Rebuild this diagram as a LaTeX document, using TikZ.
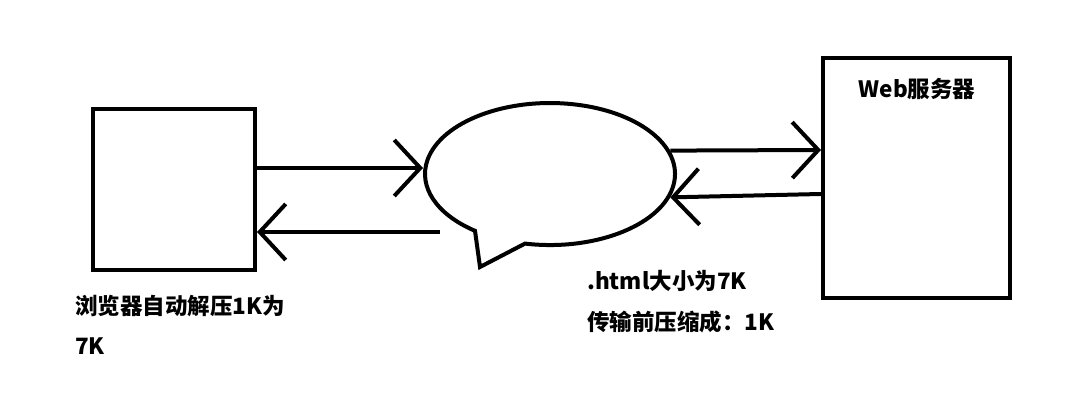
\documentclass[tikz,border=0pt]{standalone}
\usepackage{fontspec}
\setmainfont{Noto Sans CJK SC}
\usetikzlibrary{arrows.meta,shapes.geometric}
\begin{document}
\begin{tikzpicture}[x=1pt,y=1pt,
  line/.style={line width=4pt},
  box/.style={line, draw, rectangle, inner sep=0pt},
  arr/.style={line, -{Straight Barb[length=26pt,width=56pt]}},
  lbl/.style={font=\bfseries\fontsize{22.5}{26}\selectfont, inner sep=0pt}]
\fill[white] (0,0) rectangle (1090,403);
\useasboundingbox (0,0) rectangle (1090,403);
% boxes
\node[box, minimum width=162pt, minimum height=161pt] (lbox) at (174,213.5) {};
\node[box, minimum width=187pt, minimum height=240pt] (rbox) at (916.5,225) {};
% speech bubble
\node[ellipse, line, minimum width=250pt, minimum height=142pt, inner sep=0pt] (bubble) at (550,229) {};
\draw[line, line join=miter, fill=white]
  ([shift={(-25pt,-69.6pt)}]bubble.center)
  arc[start angle=258.46, end angle=593.13, x radius=125pt, y radius=71pt]
  -- ([shift={(-70pt,-93pt)}]bubble.center) -- cycle;
% connectors
\coordinate (a2start) at (440,171);
\draw[arr] ([yshift=21.5pt]lbox.east) -- ([yshift=6pt]bubble.west);
\draw[arr] (a2start) -- ([yshift=-42.5pt]lbox.east);
\draw[arr] (bubble.11.5) -- ([yshift=28pt]rbox.west);
\draw[arr] ([yshift=-16pt]rbox.west) -- (bubble.-11.5);
% labels
\node[lbl, anchor=base] (title) at (917,305) {Web服务器};
\node[lbl, anchor=base west] (l1) at (75,88) {浏览器自动解压1K为};
\node[lbl, anchor=base west] (l2) at (75,48) {7K};
\node[lbl, anchor=base west] (r1) at (587,113) {.html大小为7K};
\node[lbl, anchor=base west] (r2) at (587,72) {传输前压缩成：1K};
\end{tikzpicture}
\end{document}
